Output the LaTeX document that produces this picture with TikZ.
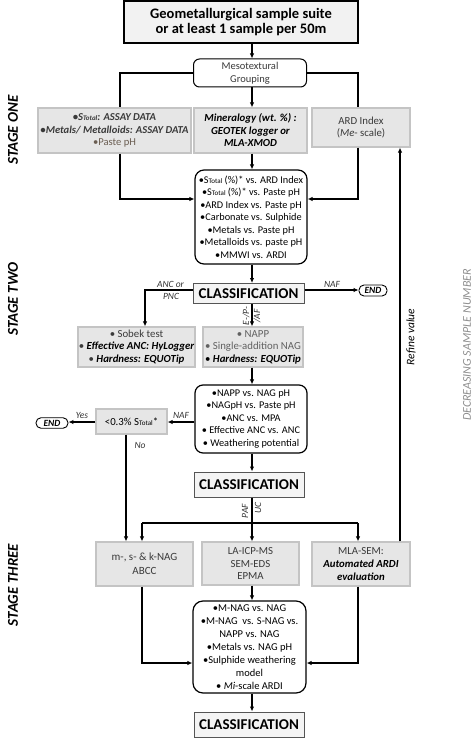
\documentclass[tikz,border=0pt]{standalone}
\usepackage{fontspec}
\setmainfont{Carlito}
\usetikzlibrary{arrows.meta,calc}
\definecolor{boxfill}{HTML}{E6E6E6}
\definecolor{boxedge}{HTML}{C4C4C4}
\definecolor{topfill}{HTML}{F2F2F2}
\definecolor{classfill}{HTML}{F4F4F4}
\definecolor{classedge}{HTML}{555555}
\definecolor{darktext}{HTML}{3A3A3A}
\definecolor{pastetext}{HTML}{6B5E52}
\definecolor{lbltext}{HTML}{333333}
\definecolor{sidetext}{HTML}{8E8E8E}
\newcommand\stot{{\fontsize{7}{7}\selectfont Total}}
\newcommand\bi[1]{\textbf{\textit{#1}}}
\begin{document}
\begin{tikzpicture}[x=1pt,y=-1pt,
  graybox/.style={draw=boxedge, fill=boxfill, line width=1.2pt, inner sep=0pt, align=center,
    font=\fontsize{10.8}{12.5}\selectfont, text=darktext},
  rbox/.style={draw=black, fill=white, rounded corners=9pt, line width=1.2pt, inner sep=0pt,
    align=center, font=\fontsize{10.3}{12.5}\selectfont},
  classbox/.style={draw=classedge, fill=classfill, line width=1pt, inner sep=0pt,
    minimum width=110pt, font=\fontsize{15}{16}\selectfont\bfseries},
  endnode/.style={draw=black, fill=white, rounded corners=5pt, line width=0.9pt, inner sep=0pt,
    font=\fontsize{9.5}{10}\selectfont\bfseries\itshape},
  lbl/.style={font=\fontsize{9.5}{10}\selectfont\itshape, text=lbltext, inner sep=0pt},
  stage/.style={font=\fontsize{15}{16}\selectfont\bfseries\itshape, rotate=90, inner sep=0pt},
  conn/.style={line width=1.3pt, draw=black},
  arr/.style={conn, -{Latex[length=5pt,width=4.5pt]}}
]
\useasboundingbox (0,0) rectangle (474,738);

% ---- nodes
\node[draw=black, fill=topfill, line width=2pt, minimum width=234pt, minimum height=42pt,
  inner sep=0pt, align=center, font=\fontsize{14.5}{15}\selectfont\bfseries] (top) at (241,22)
  {Geometallurgical sample suite\\or at least 1 sample per 50m};
\node[draw=black, fill=white, rounded corners=6pt, line width=1pt, minimum width=113pt,
  minimum height=28pt, inner sep=0pt, align=center, font=\fontsize{10.5}{13}\selectfont,
  text=darktext] (meso) at (250,73) {Mesotextural\\Grouping};

\node[graybox, minimum width=153pt, minimum height=45pt, font=\fontsize{10.6}{12.5}\selectfont] (A) at (114.5,130.5)
  {\bi{\textbullet S\stot: ASSAY DATA}\\ \bi{\textbullet Metals/ Metalloids: ASSAY DATA}\\ \textcolor{pastetext}{\textbullet Paste pH}};
\node[graybox, minimum width=113pt, minimum height=45pt, text=black] (B) at (250.5,130.5)
  {\bi{Mineralogy (wt. \%) :}\\ \bi{GEOTEK logger or}\\ \bi{MLA-XMOD}};
\node[graybox, minimum width=98pt, minimum height=39pt, text=darktext] (C) at (361,127.5)
  {ARD Index\\(\textit{Me}- scale)};

\node[rbox, minimum width=112pt, minimum height=94pt] (R1) at (251,217)
  {\textbullet S\stot{} (\%)* vs. ARD Index\\ \textbullet S\stot{} (\%)* vs. Paste pH\\
   \textbullet ARD Index vs. Paste pH\\ \textbullet Carbonate vs. Sulphide\\
   \textbullet Metals vs. Paste pH\\ \textbullet Metalloids vs. paste pH\\ \textbullet MMWI vs. ARDI};

\node[classbox, minimum width=111pt, minimum height=20pt] (C1) at (248.5,293.5) {CLASSIFICATION};
\node[endnode, minimum width=28pt, minimum height=11pt] (E1) at (373,290.5) {END};

\node[graybox, minimum width=117pt, minimum height=40pt] (sobek) at (136.5,347)
  {\textbullet{} Sobek test\\ \textbullet{} \bi{\textcolor{black}{Effective ANC: HyLogger}}\\
   \textbullet{} \bi{\textcolor{black}{Hardness: EQUOTip}}};
\node[graybox, minimum width=100pt, minimum height=40pt, text=darktext!80] (napp) at (253,347)
  {\textbullet{} NAPP\\ \textbullet{} Single-addition NAG\\ \textcolor{black}{\textbullet{} \bi{Hardness: EQUOTip}}};

\node[rbox, rounded corners=8pt, minimum width=112pt, minimum height=68pt] (R2) at (251,419)
  {\textbullet NAPP vs. NAG pH\\ \textbullet NAGpH vs. Paste pH\\ \textbullet ANC vs. MPA\\
   \textbullet{} Effective ANC vs. ANC\\ \textbullet{} Weathering potential};

\node[graybox, minimum width=71pt, minimum height=25pt, text=black] (S) at (131.5,421.5)
  {<0.3\% S\stot*};
\node[endnode, minimum width=32pt, minimum height=10.5pt] (E2) at (52,423) {END};

\node[classbox, minimum width=110pt, minimum height=25pt] (C2) at (249,484.5) {CLASSIFICATION};

\node[graybox, minimum width=97pt, minimum height=44pt, font=\fontsize{11}{14}\selectfont] (msk) at (144.5,564)
  {m-, s- \& k-NAG\\ABCC};
\node[graybox, minimum width=97pt, minimum height=43pt, font=\fontsize{10.8}{12.8}\selectfont] (LA) at (250.5,563.5)
  {LA-ICP-MS\\SEM-EDS\\EPMA};
\node[graybox, minimum width=98pt, minimum height=44pt, font=\fontsize{10.8}{12.8}\selectfont] (MLA) at (361,564)
  {MLA-SEM:\\ \bi{\textcolor{black}{Automated ARDI}}\\ \bi{\textcolor{black}{evaluation}}};

\node[rbox, rounded corners=10pt, minimum width=113pt, minimum height=92pt, font=\fontsize{10.5}{13}\selectfont] (R3) at (249.5,647)
  {\textbullet M-NAG vs. NAG\\ \textbullet M-NAG\ \ vs. S-NAG vs.\\ NAPP vs. NAG\\
   \textbullet Metals vs. NAG pH\\ \textbullet Sulphide weathering\\ model\\ \textbullet{} \textit{Mi}-scale ARDI};

\node[classbox, minimum width=110pt, minimum height=25pt] (C3) at (249,724.5) {CLASSIFICATION};

% ---- helper coordinates
\coordinate (cx) at (252,0);
\coordinate (lx) at (120,0);
\coordinate (rx) at (358,0);
\coordinate (fx) at (400,0);
\coordinate (sx) at (145,0);
\coordinate (nx) at (126,0);
\coordinate (px) at (142,0);
\coordinate (j1) at (0,199);
\coordinate (j2) at (0,290);
\coordinate (j3) at (0,422);
\coordinate (j4) at (0,523);
\coordinate (j5) at (0,663);

% ---- connectors
\draw[arr] (cx |- top.south) -- (cx |- meso.north);
\draw[conn] (meso.west) -| (lx |- A.north);
\draw[conn] (meso.east) -| (rx |- C.north);
\draw[arr] (cx |- meso.south) -- (cx |- B.north);
\draw[arr] (cx |- B.south) -- (cx |- R1.north);
\draw[arr] (lx |- A.south) |- (R1.west |- j1);
\draw[arr] (rx |- C.south) |- (R1.east |- j1);
\draw[arr] (cx |- R1.south) -- (cx |- C1.north);
\draw[arr] (C1.west |- j2) -| (sx |- sobek.north);
\draw[arr] (C1.east |- j2) -- (E1.west |- j2);
\draw[arr] (cx |- C1.south) -- (cx |- napp.north);
\draw[arr] (cx |- napp.south) -- (cx |- R2.north);
\draw[arr] (R2.west |- j3) -- (S.east |- j3);
\draw[arr] (S.west |- j3) -- (E2.east |- j3);
\draw[arr] (nx |- S.south) -- (nx |- msk.north);
\draw[arr] (cx |- R2.south) -- (cx |- C2.north);
\draw[arr] (cx |- C2.south) -- (cx |- LA.north);
\draw[conn] (px |- j4) -- (rx |- j4);
\draw[arr] (px |- j4) -- (px |- msk.north);
\draw[arr] (rx |- j4) -- (rx |- MLA.north);
\draw[arr] (cx |- LA.south) -- (cx |- R3.north);
\draw[arr] (px |- msk.south) |- (R3.west |- j5);
\draw[arr] (rx |- MLA.south) |- (R3.east |- j5);
\draw[arr] (fx |- MLA.north) -- (fx |- C.south);
\draw[arr] (cx |- R3.south) -- (cx |- C3.north);

% ---- labels
\node[lbl] (l1) at (170.5,284.5) {ANC or};
\node[lbl] (l2) at (171,296) {PNC};
\node[lbl] (l3) at (332,284) {NAF};
\node[lbl, rotate=90] (l4) at (246,316) {E-/P-};
\node[lbl, rotate=90] (l5) at (257,316) {/AF};
\node[lbl] (l6) at (181,415.5) {NAF};
\node[lbl] (l7) at (82,415) {Yes};
\node[lbl] (l8) at (140,445) {No};
\node[lbl, rotate=90] (l9) at (245,511) {PAF};
\node[lbl, rotate=90] (l10) at (258,508) {UC};
\node[font=\fontsize{11.5}{12}\selectfont\itshape, rotate=90, inner sep=0pt] (rv) at (411,337) {Refine value};
\node[font=\fontsize{12}{13}\selectfont\itshape, text=sidetext, rotate=90, inner sep=0pt] (dsn) at (467,345) {DECREASING SAMPLE NUMBER};

\node[stage] (s1) at (13,130) {STAGE ONE};
\node[stage] (s2) at (13,299) {STAGE TWO};
\node[stage] (s3) at (13,585) {STAGE THREE};
\end{tikzpicture}
\end{document}
